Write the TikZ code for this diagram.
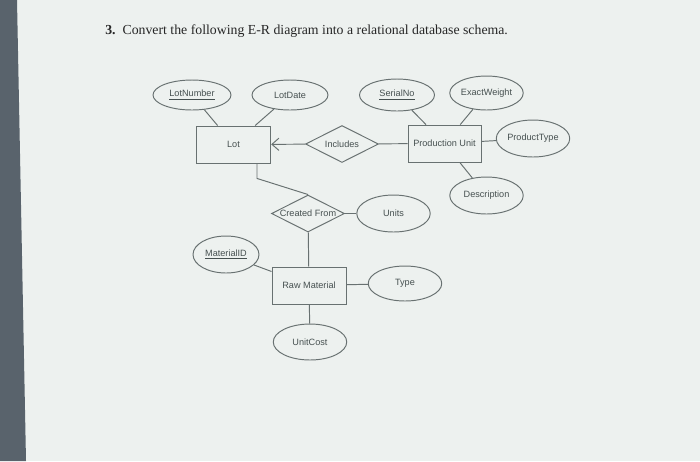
\documentclass[tikz,border=0pt]{standalone}
\usepackage{fontspec}
\setmainfont{Liberation Serif}
\setsansfont{Liberation Sans}
\usetikzlibrary{shapes.geometric,arrows.meta}
\definecolor{screen}{HTML}{EDF1EF}
\definecolor{bezel}{HTML}{59636C}
\definecolor{edge}{HTML}{687171}
\definecolor{ink}{HTML}{465050}
\tikzset{
	entity/.style={draw=edge,line width=.5pt,text=ink,font=\sffamily\fontsize{5.2}{6}\selectfont,minimum width=1.49cm,minimum height=.74cm,inner sep=0pt},
	attribute/.style={ellipse,draw=edge,line width=.55pt,text=ink,font=\sffamily\fontsize{5.2}{6}\selectfont,minimum width=1.47cm,minimum height=.7cm,inner sep=0pt},
	relation/.style={diamond,aspect=2,draw=edge,line width=.55pt,text=ink,font=\sffamily\fontsize{5.2}{6}\selectfont,minimum width=1.46cm,minimum height=.74cm,inner sep=0pt},
	link/.style={draw=edge,line width=.55pt}
}
\begin{document}
\begin{tikzpicture}[x=0.02cm,y=-0.02cm]
	\fill[screen] (0,0) rectangle (700,461);
	\fill[bezel] (0,0) -- (17,0) -- (26,461) -- (0,461) -- cycle;
	\useasboundingbox (0,0) rectangle (700,461);
	\node[anchor=base west,inner sep=0pt,text=black!85,font=\fontsize{7.85}{9}\selectfont] (title) at (105,34) {\textbf{3.}\ \ Convert the following E-R diagram into a relational database schema.};
	% entities
	\node[entity] (lot) at (233.5,144.5) {Lot};
	\node[entity,minimum width=1.46cm] (unit) at (444.5,143.5) {Production Unit};
	\node[entity,minimum width=1.48cm] (raw) at (309,285.5) {Raw Material};
	% relationships
	\node[relation] (inc) at (342,144) {Includes};
	\node[relation] (from) at (308,213.5) {Created From};
	% attributes
	\node[attribute,minimum width=1.56cm,minimum height=.6cm] (lotnum) at (192,95) {\underline{LotNumber}};
	\node[attribute,minimum width=1.52cm,minimum height=.6cm] (lotdate) at (290,95) {LotDate};
	\node[attribute,minimum width=1.5cm,minimum height=.64cm] (serial) at (397,95) {\underline{SerialNo}};
	\node[attribute,minimum height=.68cm] (weight) at (486.5,93) {ExactWeight};
	\node[attribute,minimum height=.74cm] (ptype) at (533,138.5) {ProductType};
	\node[attribute,minimum height=.74cm] (descr) at (486.5,195.5) {Description};
	\node[attribute,minimum height=.74cm] (units) at (393.5,213.5) {Units};
	\node[attribute,minimum width=1.32cm,minimum height=.74cm] (matid) at (226,254.5) {\underline{MaterialID}};
	\node[attribute] (type) at (405,283.5) {Type};
	\node[attribute,minimum height=.72cm] (cost) at (310,342) {UnitCost};
	% connectors
	\draw[link] (lotnum) -- (lot);
	\draw[link] (lotdate) -- (lot);
	\draw[link] (serial) -- (unit);
	\draw[link] (weight) -- (unit);
	\draw[link] (ptype) -- (unit);
	\draw[link] (descr) -- (unit);
	\draw[link,-{Straight Barb[length=4pt,width=7pt]}] (inc) -- (lot);
	\draw[link] (inc) -- (unit);
	\draw[link] ([xshift=.47cm]lot.south) -- ++(0,15) -- (from.north);
	\draw[link] (from) -- (units);
	\draw[link] (from) -- (raw);
	\draw[link] (matid) -- (raw);
	\draw[link] (raw) -- (type);
	\draw[link] (raw) -- (cost);
\end{tikzpicture}
\end{document}
